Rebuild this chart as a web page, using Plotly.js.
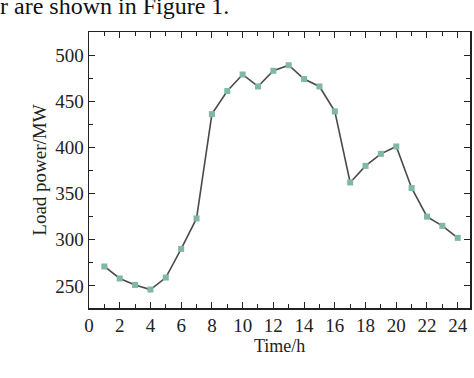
<!DOCTYPE html>
<html>
<head>
<meta charset="utf-8">
<script src="https://cdn.plot.ly/plotly-3.0.1.min.js"></script>
<style>html,body{margin:0;padding:0;background:#fff;}#chart{width:474px;height:378px;}</style>
</head>
<body>
<div id="chart"></div>
<script>
const hours = [1,2,3,4,5,6,7,8,9,10,11,12,13,14,15,16,17,18,19,20,21,22,23,24];
const loadMW = [271,258,251,246,259,290,323,436,461,479,466,483,489,474,466,439,362,380,393,401,356,325,315,302];
const xTicks = [0,2,4,6,8,10,12,14,16,18,20,22,24];
const yTicks = [250,300,350,400,450,500];

const font = "'Liberation Serif','Times New Roman',serif";
const trace = {
  x: hours, y: loadMW, type: 'scatter', mode: 'lines+markers',
  line: {color: '#4a4a4a', width: 1.6},
  marker: {symbol: 'square', size: 6, color: '#80b8a2'}
};
const layout = {
  width: 474, height: 378,
  margin: {l: 89, r: 4, t: 32, b: 70},
  paper_bgcolor: '#fff', plot_bgcolor: '#fff',
  showlegend: false,
  font: {family: font, color: '#222', size: 19},
  xaxis: {
    range: [0, 24.8], tickvals: xTicks, ticktext: xTicks.map(String),
    ticks: 'inside', ticklen: 6, tickwidth: 1, tickcolor: '#222',
    showline: true, linecolor: '#222', linewidth: 1.5, mirror: 'allticks',
    showgrid: false, zeroline: false,
    minor: {dtick: 1, tick0: 0, ticks: 'inside', ticklen: 4, tickcolor: '#222', showgrid: false},
    tickfont: {size: 19, family: font}
  },
  yaxis: {
    range: [226, 525], tickvals: yTicks, ticktext: yTicks.map(String),
    ticks: 'inside', ticklen: 6, tickwidth: 1, tickcolor: '#222',
    showline: true, linecolor: '#222', linewidth: 1.5, mirror: 'allticks',
    showgrid: false, zeroline: false,
    minor: {dtick: 25, tick0: 0, ticks: 'inside', ticklen: 4, tickcolor: '#222', showgrid: false},
    tickfont: {size: 19, family: font},
    title: {text: 'Load power/MW', font: {size: 19, family: font}, standoff: 3}
  },
  annotations: [{
    text: 'r are shown in Figure 1.', xref: 'paper', yref: 'paper',
    x: -91/381, y: 1.095, xanchor: 'left', yanchor: 'middle', showarrow: false,
    font: {size: 24, family: font, color: '#111'}
  }, {
    text: 'Time/h', xref: 'paper', yref: 'paper',
    x: 0.5, y: -0.138, xanchor: 'center', yanchor: 'middle', showarrow: false,
    font: {size: 18, family: font, color: '#222'}
  }]
};
Plotly.newPlot('chart', [trace], layout, {displayModeBar: false, staticPlot: true});
</script>
</body>
</html>
